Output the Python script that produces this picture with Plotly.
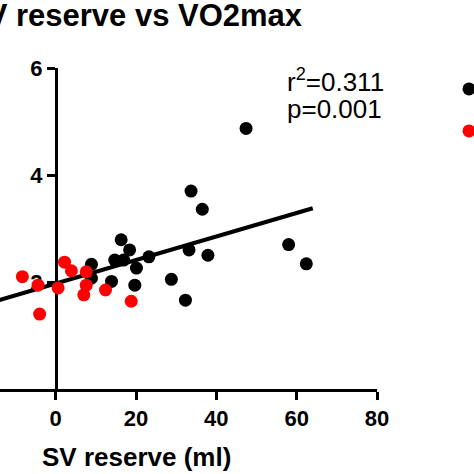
import plotly.graph_objects as go

# SV reserve (ml) vs VO2max, two groups
black_x = [47.4, 33.7, 36.5, 33.2, 37.9, 58.0, 62.4, 28.8, 32.3, 23.2,
           16.3, 18.4, 14.7, 16.9, 20.1, 19.7, 13.9, 8.9, 8.9]
black_y = [4.87, 3.70, 3.36, 2.60, 2.50, 2.70, 2.34, 2.05, 1.66, 2.47,
           2.79, 2.60, 2.41, 2.41, 2.26, 1.94, 2.01, 2.33, 2.07]

red_x = [-8.3, -4.4, -4.0, 0.6, 2.2, 3.9, 7.6, 7.6, 7.0, 12.4, 18.8]
red_y = [2.10, 1.94, 1.40, 1.89, 2.37, 2.21, 2.19, 1.94, 1.76, 1.85, 1.64]

# linear fit
fit_slope = 0.022
fit_intercept = 1.97
fit_x = [-20, 64]
fit_y = [fit_intercept + fit_slope * v for v in fit_x]

x_ticks = [0, 20, 40, 60, 80]
y_ticks = [2, 4, 6]

FONT = "Arial, Liberation Sans, sans-serif"
W, H = 474, 474
L, R, T, B = 0, 97, 68, 85
PW, PH = W - L - R, H - T - B
X_MIN, X_MAX = -13.87, 80


def px_x(p):
    return p / PW


def px_y(p):
    return (T + PH - p) / PH


fig = go.Figure()

fig.add_trace(go.Scatter(
    x=fit_x, y=fit_y, mode="lines",
    line=dict(color="black", width=4),
    showlegend=False, hoverinfo="skip"
))

fig.add_trace(go.Scatter(
    x=black_x, y=black_y, mode="markers", name="Patients",
    marker=dict(color="black", size=13),
    legend="legend"
))

fig.add_trace(go.Scatter(
    x=red_x, y=red_y, mode="markers", name="Controls",
    marker=dict(color="#ff0000", size=13),
    legend="legend2"
))

legend_style = dict(
    xanchor="left", yanchor="middle",
    font=dict(family=FONT, size=26, color="black"),
    bgcolor="rgba(0,0,0,0)", borderwidth=0
)

fig.update_layout(
    width=W, height=H,
    margin=dict(l=L, r=R, t=T, b=B, autoexpand=False),
    plot_bgcolor="white",
    paper_bgcolor="white",
    legend=dict(x=px_x(449), y=px_y(89), **legend_style),
    legend2=dict(x=px_x(449), y=px_y(131), **legend_style),
    xaxis=dict(
        range=[X_MIN, X_MAX],
        tickvals=x_ticks,
        showgrid=False, zeroline=False,
        showline=True, linecolor="black", linewidth=2.5,
        ticks="outside", ticklen=8, tickwidth=2.5, tickcolor="black",
        tickfont=dict(family=FONT, size=22, color="black", weight="bold"),
    ),
    yaxis=dict(
        range=[0, 6],
        tickvals=y_ticks,
        anchor="free",
        position=(0 - X_MIN) / (X_MAX - X_MIN),
        layer="below traces",
        showgrid=False, zeroline=False,
        showline=True, linecolor="black", linewidth=2.5,
        ticks="outside", ticklen=8, tickwidth=2.5, tickcolor="black",
        tickfont=dict(family=FONT, size=22, color="black", weight="bold"),
    ),
    annotations=[
        dict(text="<b>SV reserve vs VO2max</b>", xref="paper", yref="paper",
             x=px_x(305), y=px_y(15), xanchor="right", yanchor="middle",
             showarrow=False, font=dict(family=FONT, size=31, color="black")),
        dict(text="<b>SV reserve (ml)</b>", xref="x", yref="paper",
             x=20, y=px_y(457), xanchor="center", yanchor="middle",
             showarrow=False, font=dict(family=FONT, size=26, color="black")),
        dict(text="r<sup>2</sup>=0.311", xref="paper", yref="paper",
             x=px_x(285), y=px_y(80), xanchor="left", yanchor="middle",
             showarrow=False, font=dict(family=FONT, size=26, color="black")),
        dict(text="p=0.001", xref="paper", yref="paper",
             x=px_x(285), y=px_y(109), xanchor="left", yanchor="middle",
             showarrow=False, font=dict(family=FONT, size=26, color="black")),
    ],
)

# the page's default body margin would shift the figure by 8px
fig.write_html("out.html", config={"displayModeBar": False},
               post_script="document.body.style.margin='0';")
